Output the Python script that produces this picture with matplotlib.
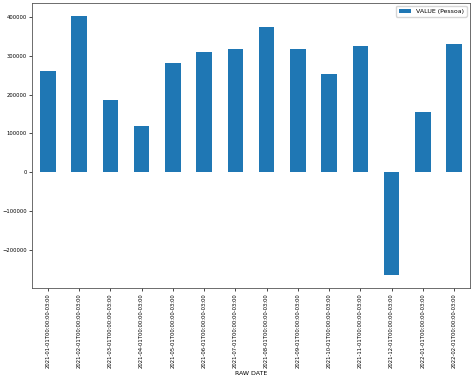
import pandas as pd
import matplotlib
matplotlib.use("Agg")
import matplotlib.pyplot as plt

#dates and values
dates = ["2021-01-01T00:00:00-03:00", "2021-02-01T00:00:00-03:00", "2021-03-01T00:00:00-03:00",
         "2021-04-01T00:00:00-03:00", "2021-05-01T00:00:00-03:00", "2021-06-01T00:00:00-03:00",
         "2021-07-01T00:00:00-03:00", "2021-08-01T00:00:00-03:00", "2021-09-01T00:00:00-03:00",
         "2021-10-01T00:00:00-03:00", "2021-11-01T00:00:00-03:00", "2021-12-01T00:00:00-03:00",
         "2022-01-01T00:00:00-03:00", "2022-02-01T00:00:00-03:00"]
values = [260000, 402000, 185000, 120000, 280000, 310000, 316000,
          373000, 316000, 253000, 325000, -264000, 155000, 329000]

df = pd.DataFrame({"RAW DATE": dates, "VALUE (Pessoa)": values}).set_index("RAW DATE")

fig = plt.figure(figsize=(4.74, 3.76), dpi=100)
ax = fig.add_axes([0.068, 0.234, 0.923, 0.758])
df.plot(kind="bar", ax=ax, color="#1f77b4", width=0.5)

ax.tick_params(labelsize=3.8, length=2, width=0.5, pad=2)
ax.set_xlabel("RAW DATE", fontsize=4.5, labelpad=2)
ax.legend(fontsize=4.5, loc="upper right")
for s in ax.spines.values():
    s.set_linewidth(0.6)
    s.set_color("#555555")

fig.savefig("out.png", dpi=100)
